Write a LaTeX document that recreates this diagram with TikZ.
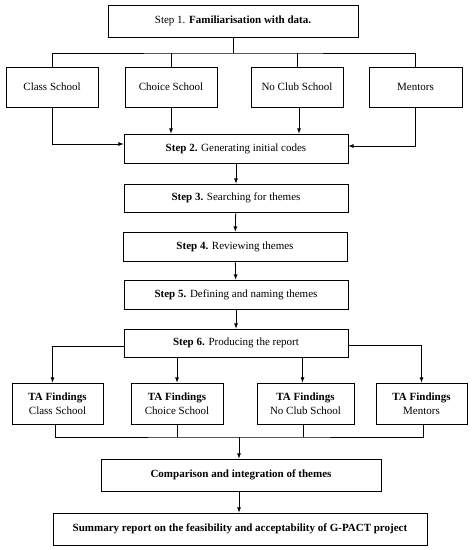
\documentclass[tikz,border=0pt]{standalone}
\usepackage{fontspec}
\setmainfont{Liberation Serif}
\usepackage{tikz}
\usetikzlibrary{arrows}
\usetikzlibrary{calc}

\begin{document}
\begin{tikzpicture}[x=1pt,y=-1pt,
        box/.style={draw, black, line width=0.8pt, minimum height=#1, inner sep=1pt, font=\fontsize{11}{13.5}\selectfont},
        box/.default=29pt,
        link/.style={black, line width=0.8pt},
        arr/.style={link, -latex}]
        \useasboundingbox (0,0) rectangle (473,550);

        \node[box=32pt, minimum width=250pt] (step1) at (233,21) {Step 1. \textbf{Familiarisation with data.}};

        \node[box=40pt, minimum width=92pt] (class) at (52,87) {Class School};
        \node[box=40pt, minimum width=92pt] (choice) at (171,87) {Choice School};
        \node[box=40pt, minimum width=92pt] (noclub) at (297,87) {No Club School};
        \node[box=40pt, minimum width=93pt] (mentors) at (415.5,87) {Mentors};

        \node[box, minimum width=224pt] (step2) at (236,148.5) {\textbf{Step 2.} Generating initial codes};
        \node[box=28pt, minimum width=224pt] (step3) at (236,198) {\textbf{Step 3.} Searching for themes};
        \node[box, minimum width=224pt] (step4) at (235,246.5) {\textbf{Step 4.} Reviewing themes};
        \node[box, minimum width=224pt] (step5) at (236,294.5) {\textbf{Step 5.} Defining and naming themes};
        \node[box=28pt, minimum width=224pt] (step6) at (236,343) {\textbf{Step 6.} Producing the report};

        \node[box=41pt, minimum width=91pt, align=center] (taclass) at (57.5,403.5) {\textbf{TA Findings}\\Class School};
        \node[box=41pt, minimum width=92pt, align=center] (tachoice) at (177,403.5) {\textbf{TA Findings}\\Choice School};
        \node[box=41pt, minimum width=97pt, align=center] (tanoclub) at (305.5,403.5) {\textbf{TA Findings}\\No Club School};
        \node[box=41pt, minimum width=91pt, align=center] (tamentors) at (421.5,403.5) {\textbf{TA Findings}\\Mentors};

        \node[box=32pt, minimum width=280pt] (compare) at (241,475) {\textbf{Comparison and integration of themes}};
        \node[box=32pt, minimum width=374pt] (summary) at (240,529) {\textbf{Summary report on the feasibility and acceptability of G-PACT project}};

        % step 1 to the four groups
        \coordinate (topbus) at (233,53);
        \draw[link] (step1) -- (topbus);
        \draw[link] (class.north) |- (topbus) -| (mentors.north);
        \draw[link] (choice.north) -- (choice.north |- topbus);
        \draw[link] (noclub.north) -- (noclub.north |- topbus);

        % groups into step 2
        \draw[arr] (class.south) |- ([yshift=4.5pt]step2.west);
        \draw[arr] (mentors.south) |- ([yshift=2.5pt]step2.east);
        \draw[arr] (choice.south) -- (choice.south |- step2.north);
        \draw[arr] ([xshift=2pt]noclub.south) -- ([xshift=2pt]noclub.south |- step2.north);

        \draw[arr] (step2) -- (step3);
        \draw[arr] (step3) -- (step4);
        \draw[arr] (step4) -- (step5);
        \draw[arr] (step5) -- (step6);

        % step 6 to the findings
        \draw[arr] ([yshift=-3pt]step6.west) -| ([xshift=-5pt]taclass.north);
        \draw[arr] ([yshift=-2pt]step6.east) -| (tamentors.north);
        \draw[arr] (tachoice.north |- step6.south) -- (tachoice.north);
        \draw[arr] ([xshift=-3pt]tanoclub.north |- step6.south) -- ([xshift=-3pt]tanoclub.north);

        % findings into comparison
        \coordinate (lowbus) at (239,437);
        \draw[link] ([xshift=-2pt]taclass.south) |- (lowbus) -| ([xshift=2pt]tamentors.south);
        \draw[link] (tachoice.south) -- (tachoice.south |- lowbus);
        \draw[link] ([xshift=-2pt]tanoclub.south) -- ([xshift=-2pt]tanoclub.south |- lowbus);
        \draw[arr] (lowbus) -- (lowbus |- compare.north);
        \draw[arr] (lowbus |- compare.south) -- (lowbus |- summary.north);

\end{tikzpicture}
\end{document}
